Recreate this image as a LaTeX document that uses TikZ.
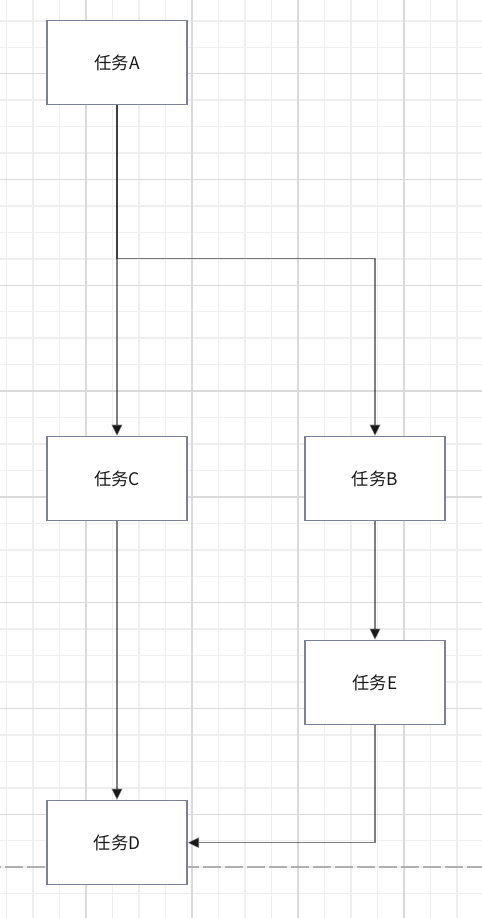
\documentclass[tikz,border=0pt]{standalone}
\usepackage{fontspec}
\newfontfamily\cjk{Noto Sans CJK SC}
\usetikzlibrary{arrows.meta}
\definecolor{boxline}{RGB}{124,128,153}
\definecolor{minorgrid}{RGB}{239,239,239}
\definecolor{majorgrid}{RGB}{218,218,218}
\definecolor{pageline}{RGB}{176,176,176}

\begin{document}
\begin{tikzpicture} [x=0.75pt, y=-0.75pt,
  task/.style={draw=boxline, fill=white, line width=1pt, minimum width=105pt, minimum height=63pt, inner sep=0pt, font=\cjk\fontsize{13}{15}\selectfont, text=black!90},
  flow/.style={draw=black, draw opacity=.5, line width=1pt, -{Triangle[length=8.5pt, width=8pt, color=black!90, fill=black!90]}}]
\useasboundingbox (0,0) rectangle (482,918);
\fill[white] (0,0) rectangle (482,918);

\foreach \x in {0,...,18} \draw[minorgrid, line width=1.1pt] ({6.5+26.5*\x},0) --++(0,918);
\foreach \y in {0,...,33} \draw[minorgrid, line width=1.1pt] (0,{20.8+26.45*\y}) --++(482,0);
\foreach \x in {0,...,3} \draw[majorgrid, line width=1.1pt] ({86+106*\x},0) --++(0,918);
\foreach \y in {0,...,7} \draw[majorgrid, line width=1.1pt] (0,{73.7+105.8*\y}) --++(482,0);
\draw[pageline, line width=1.1pt, dash pattern=on 13.1pt off 3.4pt, dash phase=12.4pt] (0,867) -- (482,867);

\node[task] (A) at (117,62.7) {任务A};
\node[task] (C) at (117,478.7) {任务C};
\node[task] (B) at (375,478.7) {任务B};
\node[task] (E) at (375,682.7) {任务E};
\node[task] (D) at (117,842.7) {任务D};
\coordinate (fork) at (117,258.7);

\draw[flow] (A) -- (C);
\draw[flow] (A.south) -- (fork) -| (B);
\draw[flow] (B) -- (E);
\draw[flow] (C) -- (D);
\draw[flow] (E) |- (D);
\end{tikzpicture}
\end{document}
